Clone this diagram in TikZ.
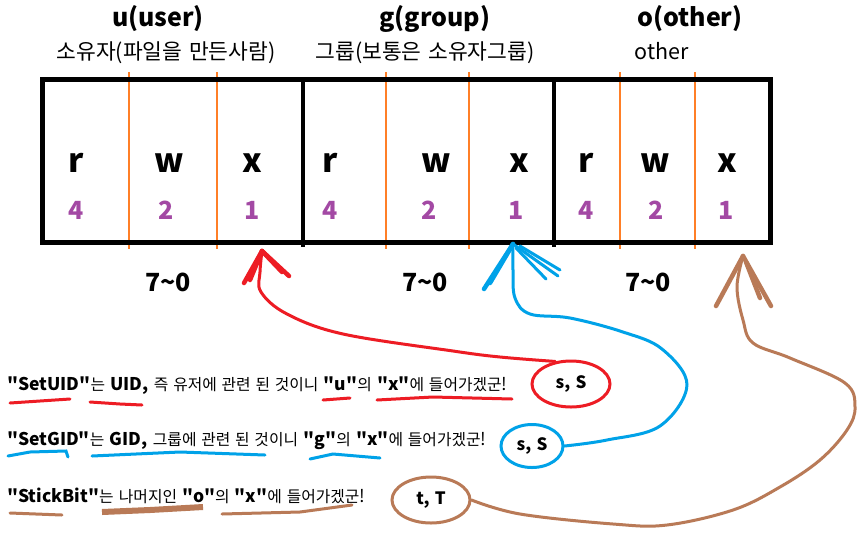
\documentclass[tikz,border=0pt]{standalone}
\usepackage{fontspec}
\setmainfont{Noto Sans CJK KR}[Ligatures=TeXOff]
\newfontfamily\notefont{Noto Sans CJK KR}[Ligatures=TeXOff, WordSpace=1.35]
\usetikzlibrary{shapes.geometric}
\definecolor{pOrange}{RGB}{255,127,39}
\definecolor{pPurple}{RGB}{163,73,164}
\definecolor{pRed}{RGB}{237,28,36}
\definecolor{pBlue}{RGB}{0,162,232}
\definecolor{pBrown}{RGB}{185,122,87}
\newcommand{\fs}[1]{\fontsize{#1}{#1}\selectfont}
\newcommand{\qq}{\char34\relax}
\newcommand{\ko}[1]{{\fontsize{15.8}{15.8}\selectfont #1}}
\tikzset{
  hdr/.style={font=\fs{25}\bfseries},
  sub/.style={font=\fs{21.5}},
  bit/.style={font=\fs{33}\bfseries},
  num/.style={font=\fs{25}\bfseries, text=pPurple},
  rng/.style={font=\fs{25}\bfseries},
  note/.style={font=\notefont\fs{17.5}, anchor=west, inner sep=0},
  divider/.style={pOrange, line width=2pt},
  sep/.style={black, line width=4pt},
  oval/.style={ellipse, draw, line width=3pt, inner sep=0, font=\fs{17}\bfseries},
  curve/.style={line width=3pt, line cap=round, line join=round},
  headstroke/.style={line width=4.5pt, line cap=round},
  uline/.style={line width=3pt, line cap=round}
}
\begin{document}
\begin{tikzpicture}[x=1pt,y=-1pt]
\useasboundingbox[fill=white] (0,0) rectangle (867,550);

% headers
\node[hdr] (hu) at (158,19) {u(user)};
\node[hdr] (hg) at (435,19) {g(group)};
\node[hdr] (ho) at (690,19) {o(other)};
\node[sub] (su) at (166,53) {소유자(파일을 만든사람)};
\node[sub] (sg) at (425,53) {그룹(보통은 소유자그룹)};
\node[sub] (so) at (662,51) {other};

% box
\draw[divider] (129,72) -- (129,249);
\draw[divider] (217,72) -- (217,249);
\draw[divider] (386,72) -- (386,249);
\draw[divider] (469,72) -- (469,249);
\draw[divider] (620,72) -- (620,249);
\draw[divider] (695,72) -- (695,249);
\draw[sep] (303,79) -- (303,247);
\draw[sep] (554,79) -- (554,247);
\node[draw, line width=5pt, minimum width=728pt, minimum height=163pt, inner sep=0] (box) at (406,160.5) {};

% bits
\node[bit] (r1) at (76,163) {r};
\node[bit] (w1) at (169,163) {w};
\node[bit] (x1) at (252,163) {x};
\node[bit] (r2) at (330,163) {r};
\node[bit] (w2) at (436,163) {w};
\node[bit] (x2) at (519,163) {x};
\node[bit] (r3) at (586,163) {r};
\node[bit] (w3) at (655,163) {w};
\node[bit] (x3) at (727,163) {x};
\node[num] (n1) at (76,210) {4};
\node[num] (n2) at (166,210) {2};
\node[num] (n3) at (252,210) {1};
\node[num] (n4) at (330,210) {4};
\node[num] (n5) at (429,210) {2};
\node[num] (n6) at (516,210) {1};
\node[num] (n7) at (586,210) {4};
\node[num] (n8) at (656,210) {2};
\node[num] (n9) at (726,210) {1};

% ranges
\node[rng] (g1) at (168,282) {7\textasciitilde0};
\node[rng] (g2) at (425,282) {7\textasciitilde0};
\node[rng] (g3) at (648,282) {7\textasciitilde0};

% notes
\node[note] (t1) at (7,386) {\textbf{\qq SetUID\qq}\ko{는} \textbf{UID,} \ko{즉 유저에 관련 된 것이니} \textbf{\qq u\qq}\ko{의} \textbf{\qq x\qq}\ko{에 들어가겠군}!};
\node[note] (t2) at (7,441) {\textbf{\qq SetGID\qq}\ko{는} \textbf{GID,} \ko{그룹에 관련 된 것이니} \textbf{\qq g\qq}\ko{의} \textbf{\qq x\qq}\ko{에 들어가겠군}!};
\node[note] (t3) at (7,496) {\textbf{\qq StickBit\qq}\ko{는} \ko{나머지인} \textbf{\qq o\qq}\ko{의} \textbf{\qq x\qq}\ko{에 들어가겠군}!};

% ovals
\node[oval, draw=pRed, minimum width=78pt, minimum height=46pt] (eU) at (571,384) {s, S};
\node[oval, draw=pBlue, minimum width=62pt, minimum height=43pt] (eG) at (532,446) {s, S};
\node[oval, draw=pBrown, minimum width=78pt, minimum height=46pt] (eO) at (431,500) {t, T};

% arrow tips
\coordinate (tipU) at (262,251);
\coordinate (tipG) at (513,244);
\coordinate (tipO) at (743,256);

% red connector
\draw[curve, pRed] plot[smooth, tension=0.6] coordinates {(eU.125) (500,357) (453,351) (343,334) (287,314) (261,292) (260,272) (tipU)};
\draw[headstroke, pRed] (tipU) -- (244,283);
\draw[headstroke, pRed] (tipU) -- (289,276);
\draw[headstroke, pRed] (tipU) -- (250,280);
\draw[headstroke, pRed] (tipU) -- (282,272);

% blue connector
\draw[curve, pBlue] plot[smooth, tension=0.6] coordinates {(eG.east) (607,440) (660,426) (687,385) (662,349) (623,332) (570,318) (530,314) (515,298) (513,270) (tipG)};
\draw[headstroke, pBlue] (tipG) -- (484,289);
\draw[headstroke, pBlue] (tipG) -- (490,283);
\draw[curve, pBlue] (tipG) -- (558,276);
\draw[curve, pBlue] (516,248) -- (546,279);
\draw[curve, pBlue] (520,246) -- (560,270);

% brown connector
\draw[curve, pBrown] plot[smooth, tension=0.6] coordinates {(eO.east) (520,514) (613,524) (667,525) (733,510) (780,487) (820,460) (847,430) (855,407) (845,383) (790,358) (753,343) (743,320) (737,287) (tipO)};
\draw[headstroke, pBrown] (tipO) -- (716,306);
\draw[headstroke, pBrown] (tipO) -- (771,306);
\draw[headstroke, pBrown] (746,262) -- (760,298);

% underlines
\draw[uline, pRed] (10,403) -- (40,401) -- (70,399);
\draw[uline, pRed] (90,402) -- (120,404) -- (142,405);
\draw[uline, pRed] (323,400) -- (350,398);
\draw[uline, pRed] (377,400) -- (433,397) -- (512,399);
\draw[uline, pBlue] (8,456) -- (30,452) -- (66,451) -- (68,457);
\draw[uline, pBlue] (92,456) -- (180,452) -- (265,455);
\draw[uline, pBlue] (310,459) -- (333,454) -- (380,458);
\draw[uline, pBrown] (10,513) -- (62,515);
\draw[pBrown, line width=6pt] (102,512) -- (150,510) -- (203,507);
\draw[uline, pBrown] (222,514) -- (300,512) -- (352,505);
\end{tikzpicture}
\end{document}
